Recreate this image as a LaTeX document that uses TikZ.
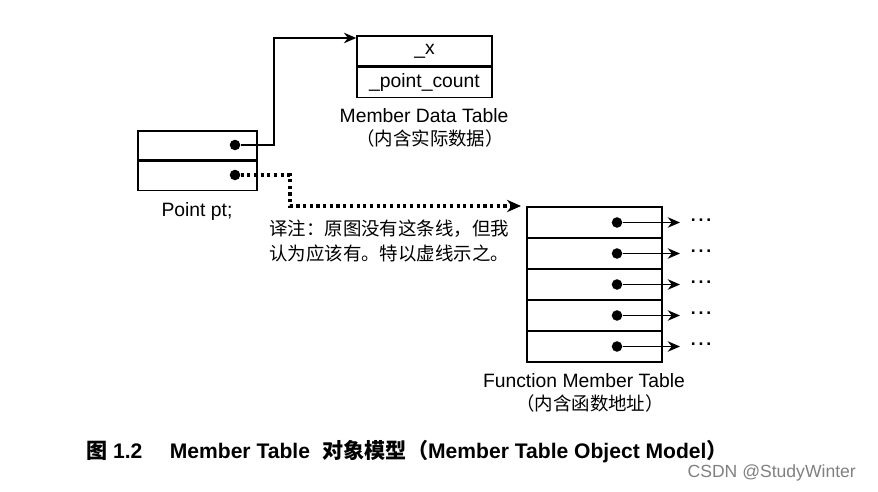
\documentclass[tikz,border=0pt]{standalone}
\usepackage{fontspec}
\setmainfont{Liberation Sans}
\newfontfamily\cjk{Noto Sans CJK SC}
\usetikzlibrary{arrows.meta}
\begin{document}
\begin{tikzpicture}[x=0.02cm,y=-0.02cm,
 cell/.style={draw,line width=0.9pt,minimum width=2.7cm,minimum height=0.6cm,inner sep=0pt,font=\fontsize{11}{12}\selectfont},
 fcell/.style={draw,line width=0.9pt,minimum width=2.7cm,minimum height=0.62cm,inner sep=0pt},
 dot/.style={circle,fill,inner sep=0pt,minimum size=6pt},
 lbl/.style={font=\fontsize{11}{13}\selectfont},
 cn/.style={font=\cjk\fontsize{10.5}{13}\selectfont},
 arr/.style={-{Stealth[length=7pt,width=6pt]},line width=0.9pt}]
\useasboundingbox (0,0) rectangle (878,492);
% member data table
\node[cell] (dx) at (424.5,51) {\_x};
\node[cell,anchor=north] (dpc) at (dx.south) {\_point\_count};
\node[lbl] (mdt) at (424,116) {Member Data Table};
\node[cn] (mdtc) at (430,138) {（内含实际数据）};
% point
\node[draw,line width=0.9pt,minimum width=2.38cm,minimum height=0.58cm,inner sep=0pt] (p1) at (197.5,145.5) {};
\node[draw,line width=0.9pt,minimum width=2.38cm,minimum height=0.58cm,inner sep=0pt,anchor=north] (p2) at (p1.south) {};
\node[dot] (d1) at (235,145) {};
\node[dot] (d2) at (235,175) {};
\node[lbl] (pt) at (197,212) {Point pt;};
\coordinate (c1) at (274,145);
\coordinate (c2) at (274,38);
\draw[arr] (d1) -- (c1) -- (c2) -- (dx.north west |- c2);
\coordinate (c3) at (290,175);
\coordinate (c4) at (290,206);
\coordinate (c5) at (521,206);
\draw[arr,line width=1.8pt,dotted,-{Stealth[length=8pt,width=7pt]}] (d2) -- (c3) -- (c4) -- (c5);
\node[cn,anchor=west] (n1) at (263,229) {译注：原图没有这条线，但我};
\node[cn,anchor=west] (n2) at (263,253) {认为应该有。特以虚线示之。};
% function table
\foreach \i in {0,...,4}{
 \node[fcell] (f\i) at (594.5,222.5+31*\i) {};
 \node[dot] (fd\i) at (617,222.5+31*\i) {};
 \coordinate (fe\i) at (680,222.5+31*\i);
 \draw[arr,line width=0.7pt] (fd\i) -- (fe\i);
 \node[font=\bfseries] (fdots\i) at (701,220+31*\i) {.\,.\,.};
}
\node[lbl] (fmt) at (584,381) {Function Member Table};
\node[cn] (fmtc) at (590,403) {（内含函数地址）};
% caption
\node[anchor=west,font=\bfseries\fontsize{12}{14}\selectfont] (cap) at (80,452) {{\cjk 图} 1.2\hspace{1.3em}Member Table\hspace{0.6em}{\cjk 对象模型（}Member Table Object Model{\cjk ）}};
\node[anchor=east,text=gray,font=\fontsize{10}{12}\selectfont] (wm) at (862,473) {CSDN @StudyWinter};
\end{tikzpicture}
\end{document}
